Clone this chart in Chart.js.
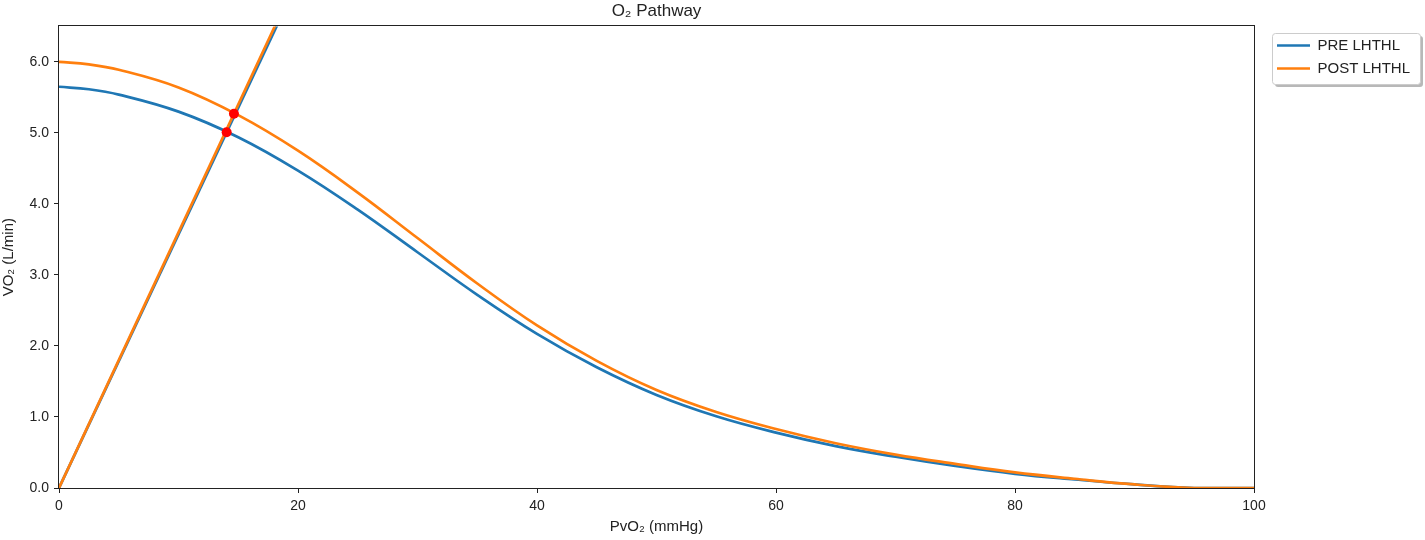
<!DOCTYPE html>
<html>
<head>
<meta charset="utf-8">
<script src="https://cdn.jsdelivr.net/npm/chart.js@4.4.1/dist/chart.umd.min.js"></script>
<style>
html, body { margin: 0; padding: 0; background: #ffffff; }
canvas { display: block; }
</style>
</head>
<body>
<canvas id="c" width="1425" height="540"></canvas>
<script>
// ---------- data ----------
const pvo2 = [0, 2.5, 5, 10, 15, 20, 25, 30, 35, 40, 45, 50, 55, 60, 65, 70, 75, 80, 85, 90, 95, 100];
const preVO2 = [5.65, 5.615, 5.54, 5.30, 4.94, 4.47, 3.92, 3.32, 2.72, 2.17, 1.70, 1.31, 1.01, 0.78, 0.59, 0.44, 0.31, 0.20, 0.12, 0.05, 0.0, 0.0];
const postVO2 = [6.00, 5.965, 5.89, 5.64, 5.25, 4.75, 4.16, 3.52, 2.88, 2.29, 1.79, 1.38, 1.07, 0.83, 0.63, 0.47, 0.34, 0.22, 0.13, 0.05, 0.0, 0.0];
const diffusionX = [0, 20];
const preDiffusionY = [0, 7.14];
const postDiffusionY = [0, 7.20];
const crossX = [14.03, 14.64];
const crossY = [5.01, 5.27];
const xTicks = [0, 20, 40, 60, 80, 100];
const yTicks = [0, 1, 2, 3, 4, 5, 6];
const seriesLabels = ['PRE LHTHL', 'POST LHTHL'];
const titleText = 'O\u2082 Pathway';
const xTitle = 'PvO\u2082 (mmHg)';
const yTitle = 'VO\u2082 (L/min)';

// ---------- style / layout ----------
const BLUE = '#1f77b4';
const ORANGE = '#ff7f0e';
const RED = '#ff0000';
const INK = '#222222';
const FONT = "'Liberation Sans', Arial, Helvetica, sans-serif";
const LW = 2.7;
const PLOT_LEFT = 59, PLOT_RIGHT = 1254, X_AXIS_H = 52;
const LEGEND_FRAME = { x: 1272, y: 33, w: 148, h: 51 };
const LEGEND_FIRST = { x: 1277, y: 38 };

const pts = (xs, ys) => xs.map((x, i) => ({ x: x, y: ys[i] }));

const frame = {
  id: 'frame',
  beforeDatasetsDraw(chart) {
    const { ctx, chartArea: a } = chart;
    ctx.save();
    ctx.strokeStyle = INK;
    ctx.lineWidth = 1;
    ctx.strokeRect(Math.round(a.left) - 0.5, Math.round(a.top) - 0.5,
                   Math.round(a.right - a.left) + 1, Math.round(a.bottom - a.top) + 1);
    ctx.restore();
  }
};

const legendPlace = {
  id: 'legendPlace',
  afterInit(chart) {
    const lg = chart.legend;
    if (!lg) return;
    const fit = lg.fit;
    lg.fit = function () { fit.call(this); this.width = chart.width - PLOT_RIGHT; };
    const draw = lg.draw;
    lg.draw = function (area) {
      const c = this.ctx;
      const pad = this.options.labels.padding;
      const f = LEGEND_FRAME;
      c.save();
      c.fillStyle = 'rgba(0,0,0,0.28)';
      c.beginPath();
      c.roundRect(f.x + 3, f.y + 3, f.w, f.h, 3);
      c.fill();
      c.fillStyle = '#ffffff';
      c.strokeStyle = '#cccccc';
      c.lineWidth = 1;
      c.beginPath();
      c.roundRect(f.x + 0.5, f.y + 0.5, f.w, f.h, 3);
      c.fill();
      c.stroke();
      c.translate(LEGEND_FIRST.x - (this.left + pad), LEGEND_FIRST.y - (this.top + pad));
      draw.call(this, area);
      c.restore();
    };
  }
};

const curveStyle = (color) => ({
  borderColor: color, backgroundColor: color, borderWidth: LW,
  showLine: true, pointRadius: 0, pointHoverRadius: 0,
  tension: 0.4, fill: false
});

new Chart(document.getElementById('c'), {
  type: 'scatter',
  data: {
    datasets: [
      Object.assign({ label: seriesLabels[0], data: pts(pvo2, preVO2), order: 5 }, curveStyle(BLUE)),
      Object.assign({ data: pts(diffusionX, preDiffusionY), order: 4 }, curveStyle(BLUE)),
      Object.assign({ label: seriesLabels[1], data: pts(pvo2, postVO2), order: 3 }, curveStyle(ORANGE)),
      Object.assign({ data: pts(diffusionX, postDiffusionY), order: 2 }, curveStyle(ORANGE)),
      {
        data: pts(crossX, crossY), order: 1, showLine: false,
        pointRadius: 5, pointHoverRadius: 5,
        pointBackgroundColor: RED, pointBorderColor: RED, pointBorderWidth: 0,
        backgroundColor: RED, borderColor: RED
      }
    ]
  },
  options: {
    responsive: false,
    animation: false,
    devicePixelRatio: 1,
    layout: { padding: 0 },
    events: [],
    scales: {
      x: {
        type: 'linear', min: 0, max: 100,
        afterBuildTicks: (s) => { s.ticks = xTicks.map(v => ({ value: v })); },
        afterFit: (s) => { s.height = X_AXIS_H; },
        border: { display: false },
        grid: { drawOnChartArea: false, drawTicks: true, tickLength: 5, color: INK, lineWidth: 1 },
        ticks: { color: INK, font: { family: FONT, size: 14 }, padding: 5, maxRotation: 0, autoSkip: false },
        title: { display: true, text: xTitle, color: INK, font: { family: FONT, size: 15 }, padding: { top: 0, bottom: 4 } }
      },
      y: {
        type: 'linear', min: 0, max: 6.5,
        afterBuildTicks: (s) => { s.ticks = yTicks.map(v => ({ value: v })); },
        afterFit: (s) => { s.width = PLOT_LEFT; },
        border: { display: false },
        grid: { drawOnChartArea: false, drawTicks: true, tickLength: 5, color: INK, lineWidth: 1 },
        ticks: { color: INK, font: { family: FONT, size: 14 }, padding: 5, autoSkip: false,
                 callback: (v) => Number(v).toFixed(1) },
        title: { display: true, text: yTitle, color: INK, font: { family: FONT, size: 15 }, padding: { top: 0, bottom: 0 } }
      }
    },
    plugins: {
      title: {
        display: true, text: titleText, fullSize: false, color: INK,
        font: { family: FONT, size: 17, weight: 'normal' }, padding: { top: 1, bottom: 5 }
      },
      legend: {
        display: true, position: 'right', align: 'start',
        labels: {
          color: INK, font: { family: FONT, size: 15 },
          usePointStyle: true, pointStyle: 'line', pointStyleWidth: 33, padding: 8,
          filter: (item) => !!item.text,
          sort: (a, b) => a.datasetIndex - b.datasetIndex
        }
      },
      tooltip: { enabled: false }
    }
  },
  plugins: [frame, legendPlace]
});
</script>
</body>
</html>
